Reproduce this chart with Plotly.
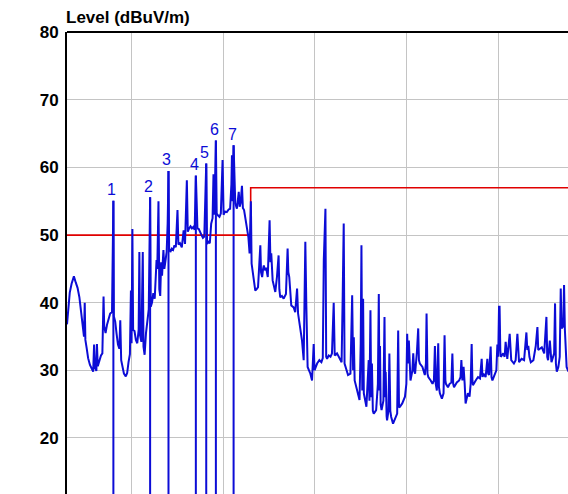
import plotly.graph_objects as go

# Spectrum scan (frequency in MHz, level in dBuV/m)
FREQ_MHZ = [
    30, 31.5, 33, 35, 37.5, 39.5, 41.5, 43.5, 45.5, 47, 48.5, 49.3, 50, 51.5, 53, 55, 57, 58.5, 59.5, 60.5,
    62, 62.6, 63.5, 65, 67, 68.5, 69.8, 70.5, 72, 73.5, 75, 77, 79, 80.5, 81, 82.5, 84, 85.5, 87, 88,
    89, 90.5, 92, 94, 95.5, 97, 98.5, 99.6, 100.3, 101.2, 102, 103.5, 105, 106.5, 108, 108.8, 109.5, 111, 112.5, 113.3,
    114.5, 116, 117.5, 119, 120.5, 121.2, 122.5, 124, 125.5, 126.5, 127.5, 128.3, 129.6, 130.5, 131.5, 132.5, 133.5, 135, 136, 137.5,
    138.5, 139.6, 140.5, 141.2, 142.5, 144, 145.5, 147, 148.5, 150.3, 151.3, 153, 155, 157, 158.5, 160.5, 161.5, 163, 164.5, 166,
    167.5, 169, 170.3, 171.3, 172, 173.5, 175, 176.5, 178, 179.5, 181.6, 182.5, 184, 185.5, 187, 188.5, 189.5, 190.5, 192.1, 193,
    194.5, 196, 197.5, 199.4, 200.5, 202, 204, 206, 207.6, 209, 209.6, 210.3, 211.4, 212.2, 213.2, 215, 217, 218, 219, 220.5,
    221.5, 222.8, 224, 226, 227.5, 228.8, 229.6, 230.2, 231, 233, 235, 236.5, 238, 239.5, 240.5, 241.3, 242.5, 243.5, 244.3, 245.5,
    246.8, 248.6, 250.6, 251.5, 252.4, 253.9, 255.5, 256.8, 258.6, 260.4, 261.2, 262.2, 264, 265.9, 268.4, 270.2, 271, 272, 274.2, 276.8,
    278.5, 280.5, 281.6, 284, 285.9, 287.7, 289.5, 290.6, 292, 293.5, 295, 296.8, 298.6, 299.5, 300.5, 302.3, 304.8, 307, 308.5, 309.6,
    311.4, 312.2, 313.2, 315, 316.9, 318.5, 320.4, 321.5, 324, 326, 327.7, 329, 330.2, 331.3, 332.2, 333.2, 336, 338.6, 340.5, 341.5,
    342.3, 343.2, 344.1, 346, 348.5, 349.8, 350.6, 351.5, 352.4, 353.2, 356, 358.5, 359.3, 360.4, 361.2, 362, 363, 364, 366.6, 368.5,
    369.5, 370.2, 370.8, 371.5, 372.5, 374.5, 375.7, 376.5, 377, 378, 378.5, 380, 381, 382, 383, 385, 387, 389.5, 390.6, 391.5,
    392.5, 395, 398, 399.5, 400.4, 401.3, 402.2, 403.2, 404, 406, 407, 408, 409, 411, 412.4, 413.2, 414.2, 417, 419.6, 420.8,
    421.5, 422.5, 423.4, 426, 428, 429.5, 430.6, 431.5, 432.7, 434.2, 435, 436, 438.2, 440, 441.1, 442, 442.6, 444.8, 446.6, 448.5,
    449.6, 450.5, 451.4, 454.4, 457, 458.5, 459.4, 460.5, 461.8, 463, 464, 466.5, 468.3, 469.5, 470.6, 471.4, 472, 475, 477.5, 479.7,
    481.5, 482.4, 483.3, 485.8, 487.7, 488.6, 489.5, 491.3, 492.2, 493.2, 496, 497.5, 498.6, 499.5, 500.4, 501, 501.8, 502.3, 505, 506.5,
    507.6, 508.5, 509.4, 512, 512.8, 513.7, 516.6, 518.5, 520.4, 521.3, 522.2, 525, 527.7, 530.2, 531.2, 532.3, 533.5, 535, 537.8, 540.4,
    542.2, 543.1, 544, 547, 549.6, 552, 552.9, 553.8, 555.7, 556.6, 557.5, 560.4, 561.4, 562.3, 563.3, 565, 566.5, 567.6, 568.5, 570.3,
    571.2, 572.1, 573, 574, 576,
]
LEVEL_DBUV = [
    36.8, 39.0, 41.5, 42.8, 43.9, 43.0, 42.2, 40.8, 38.6, 36.2, 35.0, 40.0, 34.5, 33.2, 31.8, 30.8, 30.2, 29.8, 33.8, 30.4,
    29.9, 33.9, 30.6, 31.3, 32.2, 32.5, 40.9, 36.5, 35.5, 36.7, 37.4, 38.4, 38.6, 55.1, 38.0, 37.2, 35.4, 33.8, 33.2, 37.4,
    31.5, 30.2, 29.5, 29.1, 29.6, 31.2, 32.4, 41.8, 34.0, 50.9, 36.0, 35.8, 34.5, 34.0, 36.0, 47.5, 35.2, 34.2, 47.5, 33.5,
    32.3, 35.5, 37.6, 39.0, 55.6, 39.4, 40.0, 41.4, 40.6, 44.0, 46.3, 45.0, 55.0, 42.0, 41.0, 46.0, 44.0, 47.8, 45.0, 46.5,
    47.5, 51.7, 59.5, 48.0, 47.5, 48.0, 47.8, 48.5, 48.2, 53.7, 48.6, 48.8, 48.2, 50.7, 48.7, 58.1, 50.5, 51.0, 51.3, 51.0,
    51.2, 50.8, 58.8, 54.4, 51.0, 50.9, 50.3, 50.0, 49.6, 49.8, 60.6, 48.7, 49.0, 48.8, 51.7, 52.5, 59.0, 53.0, 64.0, 53.2,
    52.9, 52.7, 53.2, 61.1, 53.0, 53.5, 53.4, 53.8, 53.9, 57.5, 61.8, 55.0, 63.3, 58.3, 54.7, 53.9, 56.4, 54.2, 54.7, 57.3,
    54.0, 53.7, 52.7, 51.2, 49.7, 47.3, 50.5, 55.0, 45.8, 43.8, 41.8, 42.0, 42.3, 46.0, 48.5, 44.5, 43.8, 45.0, 45.5, 44.8,
    45.2, 43.8, 52.2, 46.0, 47.3, 43.3, 42.5, 41.6, 43.8, 47.0, 42.0, 40.8, 41.0, 40.6, 41.3, 48.0, 44.5, 43.8, 39.6, 39.3,
    38.6, 42.1, 38.4, 36.4, 34.4, 31.5, 49.0, 39.6, 30.5, 30.0, 29.5, 28.5, 33.9, 30.0, 30.5, 31.0, 31.5, 31.2, 31.8, 46.3,
    53.9, 32.0, 31.7, 32.2, 32.0, 32.5, 40.0, 32.2, 32.5, 32.0, 31.7, 31.2, 41.1, 51.7, 31.0, 30.5, 29.3, 29.5, 41.1, 30.0,
    34.9, 28.5, 28.0, 27.0, 25.6, 34.0, 48.5, 27.0, 40.6, 26.6, 24.6, 31.5, 25.5, 38.9, 26.0, 31.0, 24.0, 23.6, 24.1, 28.0,
    41.3, 27.0, 33.6, 25.0, 24.1, 25.5, 37.9, 26.0, 29.8, 23.2, 22.6, 24.0, 32.5, 24.0, 23.1, 22.1, 22.8, 23.6, 35.9, 24.5,
    24.6, 25.1, 26.1, 28.0, 35.4, 31.0, 34.4, 29.0, 28.5, 29.9, 32.5, 30.0, 29.5, 32.7, 36.2, 31.5, 31.0, 30.5, 29.3, 31.0,
    38.4, 29.5, 29.0, 28.5, 28.0, 28.5, 33.6, 28.0, 27.0, 34.0, 27.5, 26.6, 25.8, 26.6, 35.2, 28.5, 28.0, 27.5, 28.0, 28.2,
    32.5, 28.0, 27.5, 28.2, 28.5, 29.0, 31.5, 28.5, 30.5, 28.0, 25.1, 26.6, 26.1, 28.0, 33.9, 28.5, 27.8, 28.5, 29.0, 28.8,
    31.7, 29.0, 29.5, 29.0, 31.7, 29.5, 29.3, 33.5, 29.0, 28.5, 29.5, 30.0, 33.8, 32.0, 39.4, 39.4, 33.0, 32.0, 32.5, 32.0,
    34.2, 32.5, 31.7, 35.4, 32.0, 31.5, 31.0, 31.5, 35.4, 32.0, 31.2, 31.7, 31.5, 35.6, 33.0, 33.6, 32.0, 31.2, 31.5, 33.6,
    36.4, 33.0, 33.1, 33.4, 32.5, 37.9, 32.0, 31.5, 34.4, 31.5, 31.2, 32.5, 39.9, 31.0, 29.8, 30.5, 32.0, 42.1, 36.2, 36.5,
    42.6, 36.0, 33.0, 30.5, 29.8,
]

# Limit line (dBuV/m)
LIMIT_FREQ = [30, 230, 230, 1000]
LIMIT_LEVEL = [50, 50, 57, 57]

# Peak markers
MARKER_LABELS = ["1", "2", "3", "4", "5", "6", "7"]
MARKER_FREQ = [80.5, 120.5, 140.5, 170.3, 181.6, 192.1, 211.4]
MARKER_LEVEL = [55.1, 55.6, 59.5, 58.8, 60.6, 64.0, 63.3]

Y_TICKS = [20, 30, 40, 50, 60, 70, 80]

BLUE = "#0c0cd6"
RED = "#e00000"
FONT = "Liberation Sans, Arial, sans-serif"

fig = go.Figure()

# marker drop lines
mx, my = [], []
for f, l in zip(MARKER_FREQ, MARKER_LEVEL):
    mx += [f, f, None]
    my += [l, 0, None]
fig.add_trace(go.Scatter(x=mx, y=my, mode="lines", line=dict(color=BLUE, width=2),
                         hoverinfo="skip", showlegend=False))

fig.add_trace(go.Scatter(x=LIMIT_FREQ, y=LIMIT_LEVEL, mode="lines",
                         line=dict(color=RED, width=1.6), showlegend=False))

fig.add_trace(go.Scatter(x=FREQ_MHZ, y=LEVEL_DBUV, mode="lines",
                         line=dict(color=BLUE, width=2), showlegend=False))

for lab, f, l in zip(MARKER_LABELS, MARKER_FREQ, MARKER_LEVEL):
    fig.add_annotation(x=f, y=l, text=lab, showarrow=False, xshift=-1.5, yshift=11,
                       yanchor="middle", font=dict(family=FONT, size=16, color=BLUE))

fig.add_annotation(xref="paper", yref="paper", x=0, y=1, xanchor="left", yanchor="bottom",
                   xshift=-3, yshift=3, text="Level (dBuV/m)", showarrow=False,
                   font=dict(family=FONT, size=17, color="black", weight="bold"))

# top frame line
fig.add_shape(type="line", xref="paper", yref="paper", x0=0, x1=1, y0=1, y1=1,
              line=dict(color="black", width=2))

fig.update_xaxes(range=[30, 575.5], showticklabels=False, ticks="", tick0=0, dtick=100,
                 showgrid=True, gridcolor="#c4c4c4", gridwidth=1, zeroline=False, showline=False,
                 automargin=False)
fig.update_yaxes(range=[11.7, 80.05], tickvals=Y_TICKS, ticks="", showgrid=True,
                 gridcolor="#c4c4c4", gridwidth=1, zeroline=False, showline=True,
                 linecolor="black", linewidth=2, ticklabelstandoff=3, automargin=False,
                 tickfont=dict(family=FONT, size=17, color="black", weight="bold"))

fig.update_layout(width=568, height=494, margin=dict(l=67, r=0, t=32, b=0, autoexpand=False),
                  plot_bgcolor="white", paper_bgcolor="white", showlegend=False)

fig.write_html("out.html", config={"displayModeBar": False},
               post_script="document.body.style.margin='0';document.body.style.overflow='hidden';")
